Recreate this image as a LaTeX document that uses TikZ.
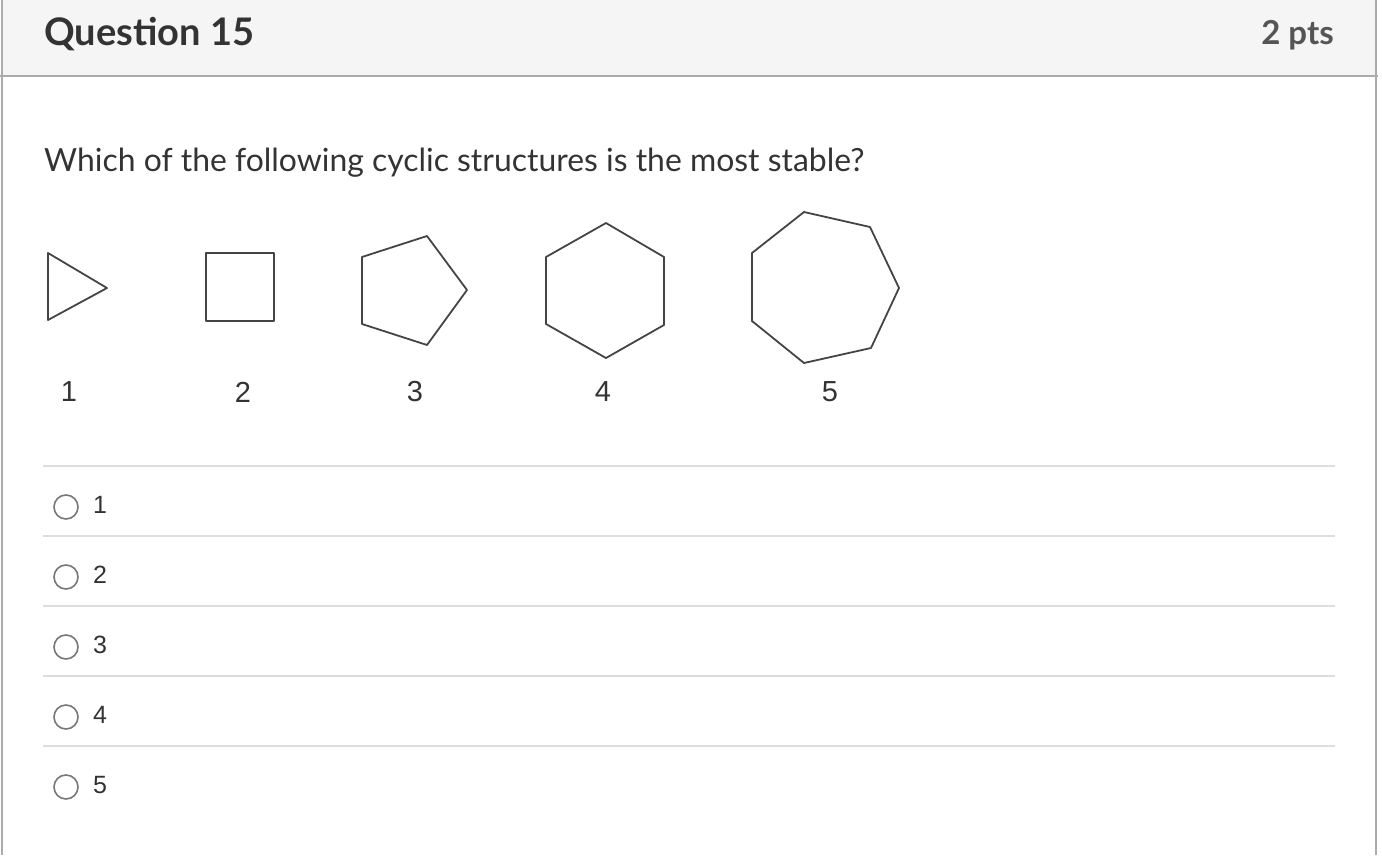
\documentclass[tikz,border=0pt]{standalone}
\usepackage{fontspec}
\setmainfont{Lato}
\newfontfamily\arialfont{Liberation Sans}
\definecolor{headbg}{HTML}{F5F5F5}
\definecolor{frame}{HTML}{ABABAB}
\definecolor{rule}{HTML}{DDDDDD}
\definecolor{ink}{HTML}{333333}
\definecolor{ptsgray}{HTML}{555555}
\definecolor{radiogray}{HTML}{777777}
\definecolor{ringline}{HTML}{444444}
\tikzset{
  ring/.style={draw=ringline,line width=1.8pt,line join=round},
  ringlbl/.style={font=\arialfont\fontsize{29}{32}\selectfont,text=ink,inner sep=0pt},
  optlbl/.style={font=\arialfont\fontsize{25}{28}\selectfont,text=ink,inner sep=0pt,anchor=west},
  radio/.style={circle,draw=radiogray,line width=1.6pt,minimum size=24pt,inner sep=0pt},
  sepline/.style={draw=rule,line width=2pt}
}
\begin{document}
\begin{tikzpicture}[x=1pt,y=-1pt]
\useasboundingbox (0,0) rectangle (1382,855);
\fill [headbg] (2,0) rectangle (1376,75);
\draw [frame,line width=2pt] (0,76) -- (1378,76);
\draw [frame,line width=2.5pt] (2,0) -- (2,855);
\draw [frame,line width=2.5pt] (1376,0) -- (1376,855);
\node (title) at (44,45) [anchor=base west,inner sep=0pt,text=ink,font=\bfseries\fontsize{38}{44}\selectfont] {Question 15};
\node (pts) at (1334,44) [anchor=base east,inner sep=0pt,text=ptsgray,font=\bfseries\fontsize{33}{38}\selectfont] {2 pts};
\node (ask) at (44,171) [anchor=base west,inner sep=0pt,text=ink,font=\fontsize{31.9}{36}\selectfont] {Which of the following cyclic structures is the most stable?};
\draw [ring] (48,253) -- (107,288) -- (48,320) -- cycle;
\draw [ring] (206,253) rectangle (274,321);
\draw [ring] (362,257) -- (427,236) -- (467,290) -- (427,345) -- (362,324) -- cycle;
\draw [ring] (606,223) -- (664,257) -- (664,325) -- (606,358) -- (546,324) -- (546,257) -- cycle;
\draw [ring] (804,212) -- (870,227) -- (899,288) -- (871,348) -- (804,363) -- (752,321) -- (752,253) -- cycle;
\node (n1) at (69,392) [ringlbl] {1};
\node (n2) at (243,392) [ringlbl] {2};
\node (n3) at (415,392) [ringlbl] {3};
\node (n4) at (603,392) [ringlbl] {4};
\node (n5) at (830,392) [ringlbl] {5};
\draw [sepline] (43,466) -- (1335,466);
\draw [sepline] (43,536) -- (1335,536);
\draw [sepline] (43,606) -- (1335,606);
\draw [sepline] (43,676) -- (1335,676);
\draw [sepline] (43,746) -- (1335,746);
\node (r1) at (66,507) [radio] {};
\node (r2) at (66,577) [radio] {};
\node (r3) at (66,647) [radio] {};
\node (r4) at (66,717) [radio] {};
\node (r5) at (66,787) [radio] {};
\node (o1) at (93,505) [optlbl] {1};
\node (o2) at (93,575) [optlbl] {2};
\node (o3) at (93,645) [optlbl] {3};
\node (o4) at (93,715) [optlbl] {4};
\node (o5) at (93,785) [optlbl] {5};
\end{tikzpicture}
\end{document}
